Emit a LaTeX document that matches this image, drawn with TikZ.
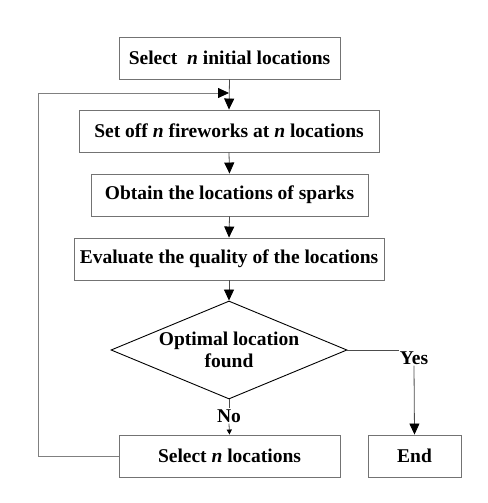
\documentclass[tikz,border=0pt]{standalone}
\usepackage{fontspec}
\setmainfont{Liberation Serif}
\usetikzlibrary{arrows.meta,shapes.geometric}
\tikzset{
  box/.style={draw=gray!90!black, line width=0.9pt, fill=white, minimum height=42pt, inner sep=0pt, font=\bfseries\fontsize{19.5}{22}\selectfont},
  lbl/.style={inner sep=1pt, font=\bfseries\fontsize{19.5}{22}\selectfont},
  conn/.style={draw=black!70, line width=0.8pt},
  arr/.style={conn, -{Triangle[length=11pt,width=10pt,black]}},
  smallarr/.style={conn, -{Triangle[length=5pt,width=5pt,black]}},
}
\begin{document}
\begin{tikzpicture}[x=1pt,y=-1pt]
\useasboundingbox (0,0) rectangle (487,503);
\node[box, minimum width=221pt] (b1) at (229.5,58) {Select ~\textit{n} initial locations};
\node[box, minimum width=300pt] (b2) at (229,131) {Set off \textit{n} fireworks at \textit{n} locations};
\node[box, minimum width=277pt] (b3) at (229.5,195) {Obtain the locations of sparks};
\node[box, minimum width=310pt] (b4) at (229,259) {Evaluate the quality of the locations};
\node[draw=black, line width=0.9pt, diamond, minimum width=236pt, minimum height=98pt, inner sep=0pt] (d) at (229,350) {};
\node[lbl, align=center] (dt) at (229,350) {Optimal location\\found};
\node[box, minimum width=221pt] (sel) at (229.5,456) {Select \textit{n} locations};
\node[box, minimum width=93pt] (end) at (414.5,456) {End};
\node[lbl] (yes) at (414,358) {Yes};
\node[lbl] (no) at (229,416) {No};
\coordinate (join) at (229,93);
\coordinate (left) at (38,93);
\coordinate (yesc) at (399,350);
\draw[arr] (b1.south) -- (b2.north);
\draw[arr] (b2.south) -- (b3.north);
\draw[arr] (b3.south) -- (b4.north);
\draw[arr] (b4.south) -- (d.north);
\draw[conn] (d.east) -- (yesc);
\draw[arr] (yes.south) -- (end.north);
\draw[conn] (d.south) -- (no.north);
\draw[smallarr] (no.south) -- (sel.north);
\draw[arr, draw=gray] (sel.west) -| (left) -- (join);
\end{tikzpicture}
\end{document}
